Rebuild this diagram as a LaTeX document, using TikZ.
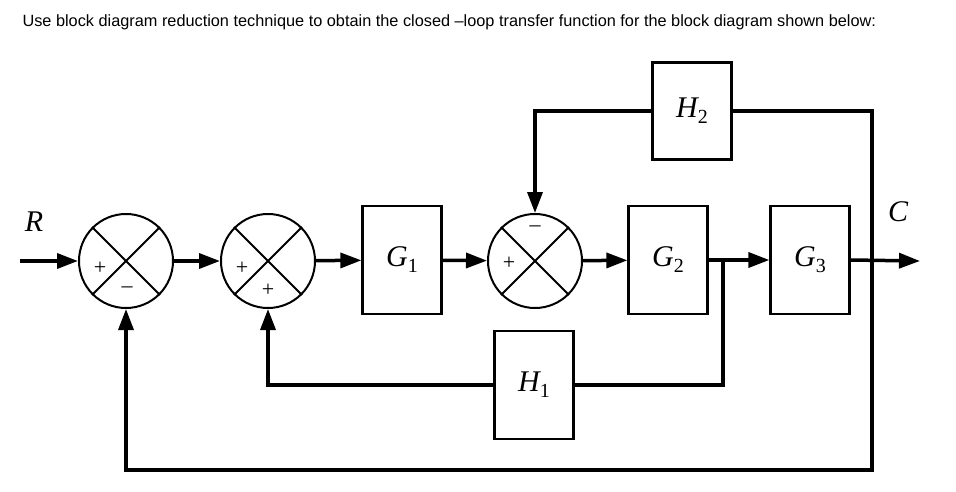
\documentclass[tikz,border=0pt]{standalone}
\usepackage{fontspec}
\setmainfont{Liberation Sans}
\newfontfamily\tms{Liberation Serif}
\usetikzlibrary{arrows.meta}
\newcommand{\blab}[2]{{\tms\fontsize{30}{30}\selectfont\itshape #1\raisebox{-6pt}{\fontsize{20}{20}\selectfont\upshape #2}}}
\begin{document}
\begin{tikzpicture}[x=1pt,y=-1pt,
  sig/.style={line width=3.5pt},
  arr/.style={sig,-{Triangle[length=21pt,width=15pt]}},
  sum/.style={circle,draw,line width=2pt,minimum size=94pt,inner sep=0pt},
  blk/.style={draw,line width=2.2pt,minimum width=79pt,minimum height=108pt,inner sep=0pt},
  sgn/.style={font=\tms\fontsize{22}{22}\selectfont}]
\useasboundingbox (0,0) rectangle (956,492);
\node[anchor=west,font=\fontsize{16.3}{16.3}\selectfont] (title) at (19,22) {Use block diagram reduction technique to obtain the closed \textendash loop transfer function for the block diagram shown below:};
% summing junctions
\node[sum] (s1) at (126,261) {};
\node[sum] (s2) at (268,261) {};
\node[sum] (s3) at (535,261) {};
\foreach \s in {s1,s2,s3}{
  \draw[line width=2pt] (\s.45) -- (\s.225) (\s.135) -- (\s.315);
}
% blocks
\node[blk] (g1) at (402,260) {\blab{G}{1}};
\node[blk] (g2) at (668,260) {\blab{G}{2}};
\node[blk] (g3) at (810,260) {\blab{G}{3}};
\node[blk,minimum height=97pt] (h2) at (692,111) {\blab{H}{2}};
\node[blk] (h1) at (534,385) {\blab{H}{1}};
% signs
\node[sgn] (p1) at (100,268) {+};
\node[sgn] (m1) at (127,290) {\textendash};
\node[sgn] (p2) at (242,268) {+};
\node[sgn] (p3) at (268,290) {+};
\node[sgn] (p4) at (509,263) {+};
\node[sgn] (m3) at (535,229) {\textendash};
% labels
\node[font=\tms\fontsize{30}{30}\selectfont\itshape] (R) at (34,222) {R};
\node[font=\tms\fontsize{30}{30}\selectfont\itshape] (C) at (898,212) {C};
% points
\coordinate (in) at (20,261);
\coordinate (br) at (723,261);
\coordinate (co) at (872,261);
\coordinate (out) at (920,261);
% forward path
\draw[arr] (in) -- (s1);
\draw[arr] (s1) -- (s2);
\draw[arr] (s2) -- (g1);
\draw[arr] (g1) -- (s3);
\draw[arr] (s3) -- (g2);
\draw[arr] (g2.east) -- (g3.west);
\draw[arr] (g3.east) -- (out);
% feedback H2
\draw[sig] (co) |- (h2.east);
\draw[arr] (h2.west) -| (s3.north);
% feedback H1
\draw[sig] (br) |- (h1.east);
\draw[arr] (h1.west) -| (s2.south);
% unity feedback
\draw[arr] (co) |- (126,470) -- (s1.south);
\end{tikzpicture}
\end{document}
